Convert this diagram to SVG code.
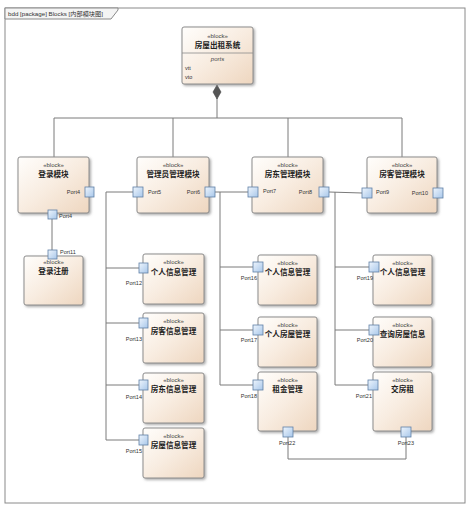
<svg xmlns="http://www.w3.org/2000/svg" width="474" height="513" viewBox="0 0 474 513">
<defs>
<linearGradient id="bg" x1="0" y1="0" x2="1" y2="1">
<stop offset="0" stop-color="#fffefc"/>
<stop offset="0.5" stop-color="#f8ece0"/>
<stop offset="1" stop-color="#eed6bf"/>
</linearGradient>
<linearGradient id="pg" x1="0" y1="0" x2="1" y2="1">
<stop offset="0" stop-color="#eef5fd"/>
<stop offset="1" stop-color="#a8c7ea"/>
</linearGradient>
<filter id="sh" x="-10%" y="-10%" width="130%" height="130%">
<feDropShadow dx="1.5" dy="1.5" stdDeviation="1" flood-color="#777" flood-opacity="0.6"/>
</filter>
<style>
.blk{fill:url(#bg);stroke:#8c8c8c;stroke-width:1;filter:url(#sh)}
.prt{fill:url(#pg);stroke:#5f7fa6;stroke-width:0.8}
.st{font-family:"Liberation Sans",Arial,sans-serif;font-size:6px;fill:#444;text-anchor:middle}
.nm{font-family:"Noto Sans CJK SC","Liberation Sans",sans-serif;font-size:7.6px;font-weight:bold;fill:#222;text-anchor:middle}
.pl{font-family:"Liberation Sans",Arial,sans-serif;font-size:5.5px;fill:#333}
.plr{font-family:"Liberation Sans",Arial,sans-serif;font-size:5.5px;fill:#333;text-anchor:end}
.cn{fill:none;stroke:#7a7a7a;stroke-width:1}
.tt{font-family:"Liberation Sans","Noto Sans CJK SC",sans-serif;font-size:6.2px;fill:#333}
</style>
</defs>
<rect width="474" height="513" fill="#ffffff"/>
<g id="frame">
<rect x="5" y="8" width="460" height="495" fill="none" stroke="#8a8a8a" stroke-width="1"/>
<polygon points="5,8 118,8 118,10 111,19 5,19" fill="#f4f4f4" stroke="#8a8a8a" stroke-width="1"/>
<text class="tt" x="8" y="16">bdd [package] Blocks [内部模块图]</text>
</g>
<g id="connectors">
<polyline class="cn" points="217,98 217,118"/>
<polyline class="cn" points="54,157 54,118 402,118 402,157"/>
<line class="cn" x1="173" y1="118" x2="173" y2="157"/>
<line class="cn" x1="288" y1="118" x2="288" y2="157"/>
<polygon points="217,85 221,92 217,99 213,92" fill="#555" stroke="#444" stroke-width="0.6"/>
<line class="cn" x1="52" y1="219" x2="52" y2="250"/>
<polyline class="cn" points="133,192 106,192 106,440 139,440"/>
<line class="cn" x1="106" y1="268" x2="139" y2="268"/>
<line class="cn" x1="106" y1="323" x2="139" y2="323"/>
<line class="cn" x1="106" y1="385" x2="139" y2="385"/>
<line class="cn" x1="215" y1="192" x2="248" y2="192"/>
<polyline class="cn" points="220,192 220,385 253,385"/>
<line class="cn" x1="220" y1="267" x2="253" y2="267"/>
<line class="cn" x1="220" y1="330" x2="253" y2="330"/>
<line class="cn" x1="329" y1="192" x2="362" y2="193"/>
<polyline class="cn" points="335,192 335,385 368,385"/>
<line class="cn" x1="335" y1="267" x2="369" y2="267"/>
<line class="cn" x1="335" y1="330" x2="369" y2="330"/>
<polyline class="cn" points="288,437 288,459 406,459 406,437"/>
</g>
<g id="sys">
<rect class="blk" x="182" y="27" width="71" height="57" rx="2"/>
<line x1="182" y1="53" x2="253" y2="53" stroke="#8c8c8c" stroke-width="0.8"/>
<text class="st" x="217.5" y="38">«block»</text>
<text class="nm" x="217.5" y="47.5">房屋出租系统</text>
<text class="st" x="217.5" y="61" font-style="italic">ports</text>
<text class="pl" x="185" y="70">vtt</text>
<text class="pl" x="185" y="79">vto</text>
</g>
<g id="login">
<rect class="blk" x="18" y="157" width="71" height="56" rx="2"/>
<text class="st" x="53.5" y="167">«block»</text>
<text class="nm" x="53.5" y="177">登录模块</text>
<rect class="prt" x="85" y="187" width="9" height="10"/>
<text class="plr" x="80" y="194">Port4</text>
<rect class="prt" x="48" y="210" width="9" height="9"/>
<text class="pl" x="59" y="218">Port4</text>
</g>
<g id="register">
<rect class="blk" x="24" y="256" width="59" height="49" rx="2"/>
<text class="st" x="53.5" y="264">«block»</text>
<text class="nm" x="53.5" y="274">登录注册</text>
<rect class="prt" x="48" y="250" width="9" height="9"/>
<text class="pl" x="60" y="254">Port11</text>
</g>
<g id="admin">
<rect class="blk" x="137" y="157" width="72" height="56" rx="2"/>
<text class="st" x="173" y="167">«block»</text>
<text class="nm" x="173" y="177" font-size="7px">管理员管理模块</text>
<rect class="prt" x="133" y="187" width="10" height="10"/>
<text class="pl" x="148" y="194">Port5</text>
<rect class="prt" x="205" y="187" width="10" height="10"/>
<text class="plr" x="200" y="194">Port6</text>
</g>
<g id="landlord">
<rect class="blk" x="252" y="157" width="71" height="56" rx="2"/>
<text class="st" x="287.5" y="167">«block»</text>
<text class="nm" x="287.5" y="177">房东管理模块</text>
<rect class="prt" x="248" y="187" width="10" height="10"/>
<text class="pl" x="263" y="193">Port7</text>
<rect class="prt" x="319" y="187" width="10" height="10"/>
<text class="plr" x="312" y="194">Port8</text>
</g>
<g id="tenant">
<rect class="blk" x="367" y="157" width="70" height="56" rx="2"/>
<text class="st" x="402" y="167">«block»</text>
<text class="nm" x="402" y="177">房客管理模块</text>
<rect class="prt" x="362" y="188" width="10" height="10"/>
<text class="pl" x="376" y="194">Port9</text>
<rect class="prt" x="433" y="188" width="10" height="10"/>
<text class="plr" x="428" y="195">Port10</text>
</g>
<g id="a1">
<rect class="blk" x="143" y="254" width="61" height="50" rx="2"/>
<text class="st" x="173.5" y="264">«block»</text>
<text class="nm" x="173.5" y="275">个人信息管理</text>
<rect class="prt" x="139" y="263" width="9" height="10"/>
<text class="plr" x="142" y="285">Port12</text>
</g>
<g id="a2">
<rect class="blk" x="143" y="313" width="61" height="50" rx="2"/>
<text class="st" x="173.5" y="323">«block»</text>
<text class="nm" x="173.5" y="334">房客信息管理</text>
<rect class="prt" x="139" y="318" width="9" height="10"/>
<text class="plr" x="142" y="341">Port13</text>
</g>
<g id="a3">
<rect class="blk" x="143" y="373" width="61" height="50" rx="2"/>
<text class="st" x="173.5" y="382">«block»</text>
<text class="nm" x="173.5" y="392">房东信息管理</text>
<rect class="prt" x="139" y="380" width="9" height="10"/>
<text class="plr" x="142" y="399">Port14</text>
</g>
<g id="a4">
<rect class="blk" x="143" y="428" width="61" height="50" rx="2"/>
<text class="st" x="173.5" y="438">«block»</text>
<text class="nm" x="173.5" y="448">房屋信息管理</text>
<rect class="prt" x="139" y="435" width="9" height="10"/>
<text class="plr" x="142" y="453">Port15</text>
</g>
<g id="b1">
<rect class="blk" x="258" y="255" width="59" height="50" rx="2"/>
<text class="st" x="287.5" y="265">«block»</text>
<text class="nm" x="287.5" y="275">个人信息管理</text>
<rect class="prt" x="253" y="262" width="10" height="10"/>
<text class="plr" x="257" y="280">Port16</text>
</g>
<g id="b2">
<rect class="blk" x="258" y="317" width="59" height="50" rx="2"/>
<text class="st" x="287.5" y="327">«block»</text>
<text class="nm" x="287.5" y="337">个人房屋管理</text>
<rect class="prt" x="253" y="325" width="10" height="10"/>
<text class="plr" x="257" y="342">Port17</text>
</g>
<g id="b3">
<rect class="blk" x="258" y="372" width="59" height="59" rx="2"/>
<text class="st" x="287.5" y="382">«block»</text>
<text class="nm" x="287.5" y="392">租金管理</text>
<rect class="prt" x="253" y="380" width="10" height="10"/>
<text class="plr" x="257" y="398">Port18</text>
<rect class="prt" x="283" y="427" width="10" height="10"/>
<text class="pl" x="279" y="445">Port22</text>
</g>
<g id="c1">
<rect class="blk" x="373" y="255" width="59" height="50" rx="2"/>
<text class="st" x="402.5" y="265">«block»</text>
<text class="nm" x="402.5" y="275">个人信息管理</text>
<rect class="prt" x="369" y="262" width="10" height="10"/>
<text class="plr" x="373" y="280">Port19</text>
</g>
<g id="c2">
<rect class="blk" x="373" y="317" width="59" height="50" rx="2"/>
<text class="st" x="402.5" y="327">«block»</text>
<text class="nm" x="402.5" y="337">查询房屋信息</text>
<rect class="prt" x="369" y="325" width="10" height="10"/>
<text class="plr" x="373" y="342">Port20</text>
</g>
<g id="c3">
<rect class="blk" x="373" y="372" width="59" height="59" rx="2"/>
<text class="st" x="402.5" y="382">«block»</text>
<text class="nm" x="402.5" y="392">交房租</text>
<rect class="prt" x="368" y="380" width="10" height="10"/>
<text class="plr" x="372" y="398">Port21</text>
<rect class="prt" x="401" y="427" width="10" height="10"/>
<text class="plr" x="414" y="445">Port23</text>
</g>
</svg>
